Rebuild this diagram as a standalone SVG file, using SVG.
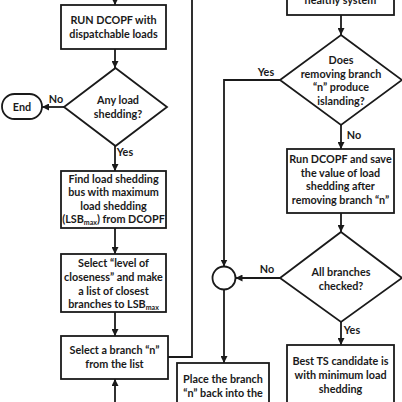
<svg xmlns="http://www.w3.org/2000/svg" width="402" height="402" viewBox="0 0 402 402">
<defs>
<marker id="ah" viewBox="0 0 10 10" refX="10" refY="5" markerWidth="7" markerHeight="7" markerUnits="userSpaceOnUse" orient="auto">
<path d="M0,0 L10,5 L0,10 z" fill="#1a1a1a"/>
</marker>
</defs>
<style>
.box{fill:#fff;stroke:#1a1a1a;stroke-width:1.8}
.ln{fill:none;stroke:#1a1a1a;stroke-width:1.8}
.arr{fill:none;stroke:#1a1a1a;stroke-width:1.8;marker-end:url(#ah)}
text{font-family:Lato,"Liberation Sans",sans-serif;font-weight:bold;font-size:10.8px;fill:#1a1a1a;text-anchor:middle}
.sub{font-size:7px}
</style>
<rect width="402" height="402" fill="#fff"/>
<g id="connectors">
<line class="arr" x1="115" y1="0" x2="115" y2="5"/>
<line class="arr" x1="115" y1="49" x2="115" y2="68"/>
<line class="arr" x1="64" y1="107" x2="42" y2="107"/>
<line class="arr" x1="115" y1="146" x2="115" y2="171"/>
<line class="arr" x1="115" y1="228" x2="115" y2="254"/>
<line class="arr" x1="115" y1="312" x2="115" y2="336"/>
<line class="arr" x1="115" y1="402" x2="115" y2="379"/>
<polyline class="ln" points="168,357 192,357 192,0"/>
<line class="arr" x1="341" y1="15" x2="341" y2="35"/>
<polyline class="arr" points="280,80 224,80 224,266.5"/>
<line class="arr" x1="341" y1="125" x2="341" y2="149"/>
<line class="arr" x1="341" y1="213" x2="341" y2="232"/>
<line class="arr" x1="280" y1="278" x2="235.5" y2="278"/>
<line class="arr" x1="224" y1="289.5" x2="224" y2="363"/>
<line class="arr" x1="341" y1="322" x2="341" y2="345"/>
<text x="56" y="103">No</text>
<text x="125" y="156">Yes</text>
<text x="266" y="76">Yes</text>
<text x="354" y="139">No</text>
<text x="267" y="273">No</text>
<text x="352" y="334">Yes</text>
</g>
<g id="run-dcopf">
<rect class="box" x="61" y="5" width="105" height="44"/>
<text x="113.5" y="24">RUN DCOPF with</text>
<text x="113.5" y="38">dispatchable loads</text>
</g>
<g id="any-load-shedding">
<polygon class="box" points="115.5,68 167,107 115.5,146 64,107"/>
<text x="118" y="104">Any load</text>
<text x="118" y="117.5">shedding?</text>
</g>
<g id="end">
<rect class="box" x="2" y="94" width="40" height="25" rx="12.5"/>
<text x="22" y="111">End</text>
</g>
<g id="find-lsb">
<rect class="box" x="61" y="171" width="105" height="57"/>
<text x="113.5" y="182.5">Find load shedding</text>
<text x="113.5" y="196">bus with maximum</text>
<text x="113.5" y="209.5">load shedding</text>
<text x="113.5" y="223">(LSB<tspan class="sub" dy="2">max</tspan><tspan dy="-2">) from DCOPF</tspan></text>
</g>
<g id="select-closeness">
<rect class="box" x="61" y="254" width="105" height="58"/>
<text x="113.5" y="267">Select “level of</text>
<text x="113.5" y="281">closeness” and make</text>
<text x="113.5" y="294.5">a list of closest</text>
<text x="113.5" y="308">branches to LSB<tspan class="sub" dy="2">max</tspan></text>
</g>
<g id="select-branch">
<rect class="box" x="61" y="336" width="107" height="43"/>
<text x="114.5" y="354">Select a branch “n”</text>
<text x="114.5" y="367.5">from the list</text>
</g>
<g id="healthy-system">
<rect class="box" x="287" y="-10" width="107" height="25"/>
<text x="340.5" y="4">healthy system</text>
</g>
<g id="islanding">
<polygon class="box" points="341,35 402,80 341,125 280,80"/>
<text x="341" y="64">Does</text>
<text x="341" y="77.5">removing branch</text>
<text x="341" y="91">“n” produce</text>
<text x="341" y="104.5">islanding?</text>
</g>
<g id="run-dcopf-save">
<rect class="box" x="287" y="149" width="107" height="64"/>
<text x="340.5" y="163">Run DCOPF and save</text>
<text x="340.5" y="176.5">the value of load</text>
<text x="340.5" y="190">shedding after</text>
<text x="340.5" y="203.5">removing branch “n”</text>
</g>
<g id="all-checked">
<polygon class="box" points="341,232 402,278 341,322 280,278"/>
<text x="341" y="276">All branches</text>
<text x="341" y="289.5">checked?</text>
</g>
<g id="junction">
<circle class="box" cx="224" cy="278" r="11.5"/>
</g>
<g id="place-back">
<rect class="box" x="177" y="363" width="92" height="50"/>
<text x="223" y="383">Place the branch</text>
<text x="223" y="397">“n” back into the</text>
</g>
<g id="best-ts">
<rect class="box" x="287" y="345" width="107" height="68"/>
<text x="340.5" y="365">Best TS candidate is</text>
<text x="340.5" y="379">with minimum load</text>
<text x="340.5" y="393">shedding</text>
</g>
</svg>
